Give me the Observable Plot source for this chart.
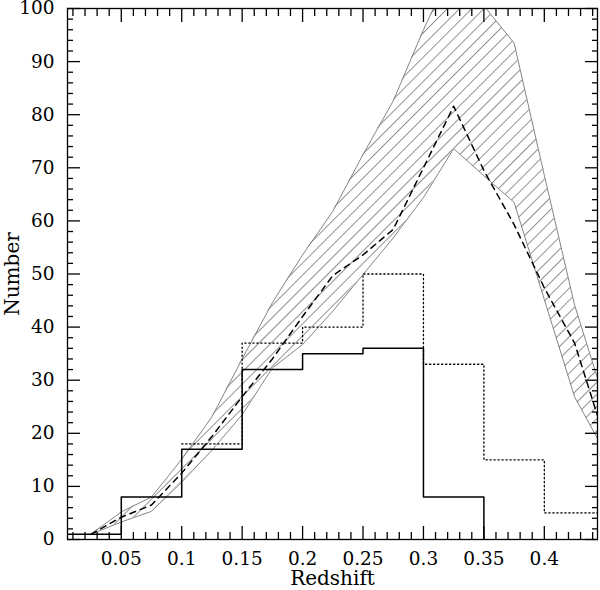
<!DOCTYPE html>
<html><head><meta charset="utf-8">
<script src="https://cdn.jsdelivr.net/npm/d3@7"></script>
<script src="https://cdn.jsdelivr.net/npm/@observablehq/plot@0.6"></script>
<style>body{margin:0;background:#fff} svg text{font-family:'DejaVu Serif',serif;}</style>
</head><body><div id="chart"></div>
<script>
// Observed histogram (solid): bin left edges and counts (last point closes to 0)
const obsEdges  = [0, 0.05, 0.1, 0.15, 0.2, 0.25, 0.3, 0.35];
const obsCounts = [1, 8, 17, 32, 35, 36, 8, 0];
// Second histogram (dotted)
const dotEdges  = [0.1, 0.15, 0.2, 0.25, 0.3, 0.35, 0.4, 0.45];
const dotCounts = [18, 37, 40, 50, 33, 15, 5, 5];
// Model curve (dashed) and its uncertainty band (hatched)
const modelZ     = [0.025, 0.05, 0.075, 0.1, 0.125, 0.15, 0.175, 0.2, 0.225, 0.25, 0.275, 0.3, 0.325, 0.35, 0.375, 0.4, 0.425, 0.45];
const modelMid   = [1, 4.2, 6.5, 12.5, 19.4, 26.9, 34, 42, 49.7, 53.6, 58.4, 70, 81.6, 69.5, 59.3, 47.4, 37, 19];
const bandUpper  = [1, 5.2, 8, 15.1, 23.1, 34, 44.6, 53.6, 61.8, 72.5, 82.6, 96, 108, 100.5, 93.5, 68.6, 44.2, 26];
const bandLower  = [1, 3.3, 5.3, 10.8, 16.8, 23.5, 32.3, 36.7, 43, 49.9, 56.8, 64.4, 73.6, 68.5, 63.5, 45.2, 26.9, 16.5];
// Axis ticks
const xMajor = [0.05, 0.1, 0.15, 0.2, 0.25, 0.3, 0.35, 0.4];
const xMinor = [0.01,0.02,0.03,0.04,0.06,0.07,0.08,0.09,0.11,0.12,0.13,0.14,0.16,0.17,0.18,0.19,0.21,0.22,0.23,0.24,0.26,0.27,0.28,0.29,0.31,0.32,0.33,0.34,0.36,0.37,0.38,0.39,0.41,0.42,0.43,0.44];
const yMajor = [0, 10, 20, 30, 40, 50, 60, 70, 80, 90, 100];
const yMinor = [2,4,6,8,12,14,16,18,22,24,26,28,32,34,36,38,42,44,46,48,52,54,56,58,62,64,66,68,72,74,76,78,82,84,86,88,92,94,96,98];

const obs = obsEdges.map((x, i) => ({x, y: obsCounts[i]}));
const dot = dotEdges.map((x, i) => ({x, y: dotCounts[i]}));
const model = modelZ.map((z, i) => ({z, mid: modelMid[i], up: bandUpper[i], lo: bandLower[i]}));

const gray = "#777";
const font = "'DejaVu Serif', serif";
const defs = () => {
  const d = d3.create("svg:defs");
  const p = d.append("pattern").attr("id", "hatch").attr("patternUnits", "userSpaceOnUse")
    .attr("width", 8.6).attr("height", 8.6).attr("patternTransform", "rotate(45)");
  p.append("line").attr("x1", 4.3).attr("x2", 4.3).attr("y1", -1).attr("y2", 9.6)
    .attr("stroke", gray).attr("stroke-width", 0.8);
  return d.node();
};

const fmtX = d => String(+d.toFixed(2));
const tickOpts = {tickFormat: () => "", label: null, strokeWidth: 1.3};
const plot = Plot.plot({
  width: 600, height: 590,
  marginLeft: 67, marginRight: 3, marginTop: 8, marginBottom: 51,
  style: {fontFamily: font, fontSize: "18.5px", color: "black", background: "white"},
  x: {domain: [0.0055, 0.444]},
  y: {domain: [0, 100]},
  marks: [
    defs,
    Plot.areaY(model, {x: "z", y1: "lo", y2: "up", fill: "url(#hatch)", clip: true}),
    Plot.line(model, {x: "z", y: "up", stroke: gray, strokeWidth: 0.9, clip: true}),
    Plot.line(model, {x: "z", y: "lo", stroke: gray, strokeWidth: 0.9, clip: true}),
    Plot.line(dot, {x: "x", y: "y", curve: "step-after", stroke: "black", strokeWidth: 1.3, strokeDasharray: "1.3,2.7", clip: true}),
    Plot.line(obs, {x: "x", y: "y", curve: "step-after", stroke: "black", strokeWidth: 1.5, clip: true}),
    Plot.line(model, {x: "z", y: "mid", stroke: "black", strokeWidth: 1.5, strokeDasharray: "6,5", clip: true}),
    // ticks (inward, all four sides)
    Plot.axisX({anchor: "bottom", ticks: xMajor, tickSize: -13, ...tickOpts}),
    Plot.axisX({anchor: "bottom", ticks: xMinor, tickSize: -7, ...tickOpts}),
    Plot.axisX({anchor: "top", ticks: xMajor, tickSize: -13, ...tickOpts}),
    Plot.axisX({anchor: "top", ticks: xMinor, tickSize: -7, ...tickOpts}),
    Plot.axisY({anchor: "left", ticks: yMajor, tickSize: -13, ...tickOpts}),
    Plot.axisY({anchor: "left", ticks: yMinor, tickSize: -6, ...tickOpts}),
    Plot.axisY({anchor: "right", ticks: yMajor, tickSize: -13, ...tickOpts}),
    Plot.axisY({anchor: "right", ticks: yMinor, tickSize: -6, ...tickOpts}),
    // tick labels
    Plot.axisX({anchor: "bottom", ticks: xMajor, tickSize: 0, tickPadding: 12, tickFormat: fmtX, label: null,
      fontFamily: font, fontSize: 18.5, fontVariant: "normal", fill: "black"}),
    Plot.axisY({anchor: "left", ticks: yMajor, tickSize: 0, tickPadding: 13, tickFormat: d => String(d), label: null,
      fontFamily: font, fontSize: 18.5, fontVariant: "normal", fill: "black"}),
    // axis titles
    Plot.text(["Redshift"], {text: d => d, frameAnchor: "bottom", dy: 45.5, textAnchor: "middle", fill: "black", fontFamily: font, fontSize: 20}),
    Plot.text(["Number"], {text: d => d, frameAnchor: "left", dx: -55, rotate: -90, textAnchor: "middle", fill: "black", fontFamily: font, fontSize: 20}),
    Plot.frame({stroke: "black", strokeWidth: 1.3})
  ]
});
document.getElementById("chart").appendChild(plot);
</script>
</body></html>
